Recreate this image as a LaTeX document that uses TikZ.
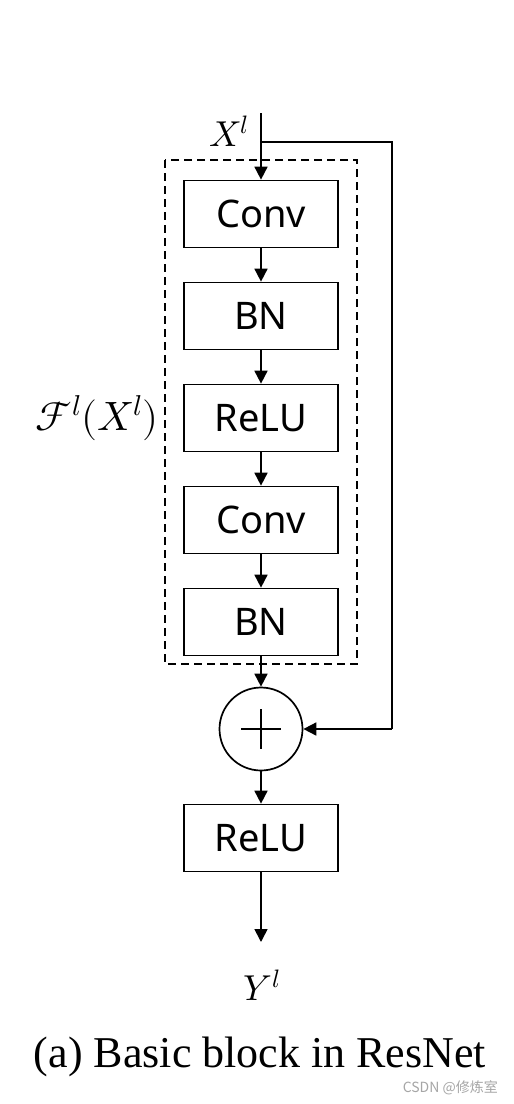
\documentclass[tikz,border=0pt]{standalone}
\usepackage{fontspec}
\usepackage{unicode-math}
\setmainfont{Liberation Serif}
\setmathfont{Latin Modern Math}
\newfontfamily\boxfont{Noto Sans}
\newfontfamily\cjkfont{Noto Sans CJK SC}
\usetikzlibrary{arrows.meta}
\begin{document}
\begin{tikzpicture}[x=1pt,y=-1pt,
  blk/.style={draw, line width=1.7pt, minimum width=154pt, minimum height=67pt, inner sep=0pt, font=\boxfont\fontsize{38}{42}\selectfont},
  conn/.style={line width=1.7pt, -{Triangle[width=13pt,length=13pt]}},
  plain/.style={line width=1.7pt},
  mlab/.style={inner sep=0pt, font=\fontsize{36}{40}\selectfont}]
\useasboundingbox (0,0) rectangle (514,1104);
\fill[white] (0,0) rectangle (514,1104);
% dashed frame
\draw[line width=1.7pt, dash pattern=on 8pt off 5pt] (165,160) rectangle (357,664);
\node[blk] (c1) at (261,214) {Conv};
\node[blk] (b1) at (261,316) {BN};
\node[blk] (r1) at (261,418) {ReLU};
\node[blk] (c2) at (261,520) {Conv};
\node[blk] (b2) at (261,622) {BN};
\node[draw, circle, line width=1.7pt, minimum size=83pt, inner sep=0pt] (add) at (261,729) {};
\draw[line width=1.7pt] (add.center) ++(-20,0) -- ++(40,0);
\draw[line width=1.7pt] (add.center) ++(0,-20) -- ++(0,40);
\node[blk] (r2) at (261,838) {ReLU};
\coordinate (in) at (261,113);
\coordinate (split) at (261,142);
\coordinate (sk1) at (392,142);
\coordinate (sk2) at (392,729);
\coordinate (out) at (261,942);
\node[mlab] (xl) at (229,131) {$X^{l}$};
\node[mlab, font=\fontsize{41}{44}\selectfont] (fl) at (97,418) {$\mathcal{F}^{l}(X^{l})$};
\node[mlab] (yl) at (262,985) {$Y^{l}$};
\draw[conn] (in) -- (c1);
\draw[plain] (split) -- (sk1) -- (sk2);
\draw[conn] (sk2) -- (add);
\draw[conn] (c1) -- (b1);
\draw[conn] (b1) -- (r1);
\draw[conn] (r1) -- (c2);
\draw[conn] (c2) -- (b2);
\draw[conn] (b2) -- (add);
\draw[conn] (add) -- (r2);
\draw[conn] (r2) -- (out);
\node[inner sep=0pt, font=\fontsize{44}{48}\selectfont] (cap) at (260,1057) {(a) Basic block in ResNet};
\node[inner sep=0pt, anchor=east, text=gray!70, font=\cjkfont\fontsize{14}{16}\selectfont] (wm) at (498,1088) {CSDN @修炼室};
\end{tikzpicture}
\end{document}
